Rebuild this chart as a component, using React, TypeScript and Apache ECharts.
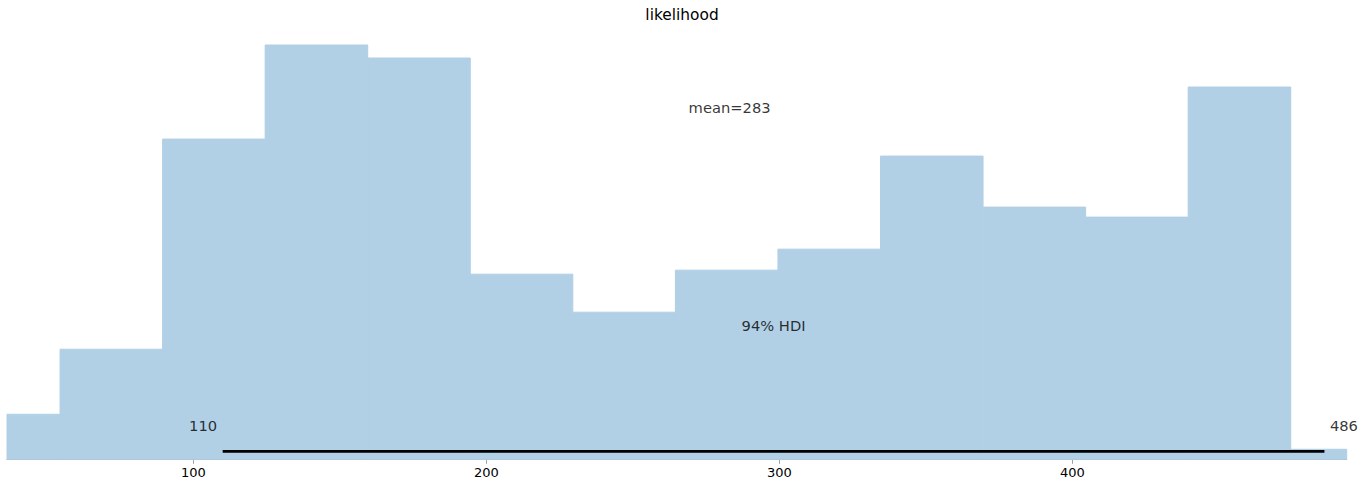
import React, { useEffect, useRef } from "react";
import * as echarts from "echarts";

// Histogram bin edges (x values) and bar heights (relative density)
const binEdges = [19.5, 54.5, 89.5, 124.5, 159.5, 194.5, 229.5, 264.5, 299.5, 334.5, 369.5, 404.5, 439.5, 474.5, 509.5];
const binHeights = [45, 110, 320, 414, 401, 185, 147, 189, 210, 303, 252, 242, 372, 10];
const xTicks = [100, 200, 300, 400];
const hdiLow = 110;
const hdiHigh = 486;
const meanValue = 283;
const hdiProb = "94%";
const title = "likelihood";

const FONT = "DejaVu Sans";
const BAR = "#b1cfe5";

export default function App() {
  const ref = useRef<HTMLDivElement>(null);
  useEffect(() => {
    if (!ref.current) return;
    const chart = echarts.init(ref.current, undefined, { renderer: "svg" });
    const yMax = Math.max(...binHeights);
    const bars = binHeights.map((h, i) => [binEdges[i], binEdges[i + 1], h]);
    const option: any = {
      animation: false,
      backgroundColor: "#ffffff",
      title: {
        text: title,
        left: "center",
        top: 2,
        textStyle: { fontFamily: FONT, fontSize: 15.4, fontWeight: "normal", color: "#000" },
      },
      grid: { left: 7, right: 17.3, top: 45, bottom: 27.7 },
      xAxis: {
        type: "value",
        min: 36.4,
        max: 493.6,
        splitLine: { show: false },
        axisLine: { show: true, lineStyle: { color: "#9aa3ab", width: 1 } },
        axisTick: { show: true, length: 4.5, customValues: xTicks, lineStyle: { color: "#9aa3ab", width: 1 } },
        axisLabel: {
          customValues: xTicks,
          margin: 7,
          fontFamily: FONT,
          fontSize: 13,
          color: "#000",
        },
      },
      yAxis: {
        type: "value",
        min: 0,
        max: yMax,
        show: false,
        splitLine: { show: false },
      },
      series: [
        {
          type: "custom",
          data: bars,
          encode: { x: [0, 1], y: 2 },
          renderItem: (params: any, api: any) => {
            const p0 = api.coord([api.value(0), api.value(2)]);
            const p1 = api.coord([api.value(1), 0]);
            const cs = params.coordSys;
            const shape = echarts.graphic.clipRectByRect(
              { x: p0[0], y: p0[1], width: p1[0] - p0[0], height: p1[1] - p0[1] },
              { x: cs.x, y: cs.y, width: cs.width, height: cs.height }
            );
            if (!shape) return null;
            return {
              type: "rect",
              shape,
              style: { fill: BAR, stroke: BAR, lineWidth: 1 },
            };
          },
          z: 1,
        },
        {
          type: "line",
          data: [
            [hdiLow, 8],
            [hdiHigh, 8],
          ],
          symbol: "none",
          lineStyle: { color: "#000", width: 2.8 },
          z: 3,
        },
        {
          type: "scatter",
          symbolSize: 1,
          z: 4,
          data: [
            { value: [hdiLow, 34], label: { formatter: String(hdiLow), position: "left", distance: 5 } },
            { value: [hdiHigh, 34], label: { formatter: String(hdiHigh), position: "right", distance: 5 } },
            { value: [meanValue, 352], label: { formatter: "mean=" + meanValue, position: "inside" } },
            { value: [(hdiLow + hdiHigh) / 2, 134], label: { formatter: hdiProb + " HDI", position: "inside" } },
          ],
          label: { show: true, fontFamily: FONT, fontSize: 14.7, color: "#000", textBorderWidth: 0 },
          itemStyle: { color: "rgba(0,0,0,0)" },
          emphasis: { disabled: true },
          silent: true,
        },
      ],
    };
    chart.setOption(option);
    return () => chart.dispose();
  }, []);
  return (
    <div
      ref={ref}
      style={{ position: "fixed", left: 0, top: 0, width: 1364, height: 487, background: "#fff" }}
    />
  );
}
